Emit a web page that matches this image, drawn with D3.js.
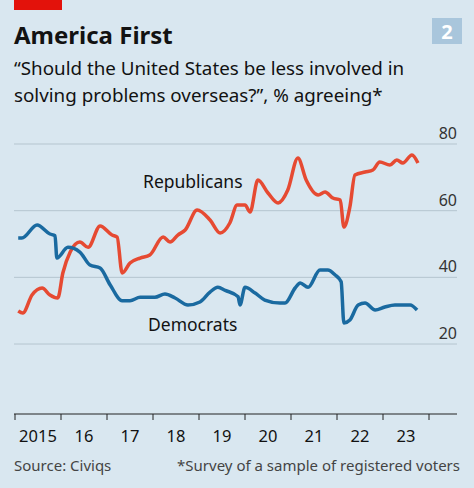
<!DOCTYPE html>
<html><head><meta charset="utf-8">
<script src="https://cdn.jsdelivr.net/npm/d3@7"></script>
<style>body{margin:0;background:#d9e7f0;font-family:"Noto Sans",sans-serif;}</style>
</head><body><div id="chart"></div>
<script>
// Data (decimal years, % agreeing)
const repYears = [2015.07,2015.17,2015.37,2015.59,2015.76,2015.93,2016.04,2016.20,2016.41,2016.59,2016.85,2017.11,2017.22,2017.33,2017.50,2017.72,2017.93,2018.22,2018.37,2018.54,2018.70,2018.96,2019.24,2019.46,2019.67,2019.83,2020.00,2020.11,2020.28,2020.50,2020.72,2020.93,2021.15,2021.33,2021.59,2021.74,2021.91,2022.07,2022.15,2022.28,2022.39,2022.61,2022.78,2022.93,2023.15,2023.30,2023.43,2023.63,2023.76];
const repValues = [29.9,29.3,34.7,36.8,34.7,33.8,41.3,47.6,50.6,49.0,55.4,52.7,52.1,41.3,44.3,45.8,46.7,52.1,50.6,52.7,54.2,60.2,57.2,53.3,56.3,61.7,61.7,59.6,69.2,65.3,62.3,66.2,75.8,69.2,64.7,65.6,63.8,63.2,55.1,61.1,70.7,71.6,72.2,74.6,73.7,75.2,74.3,76.7,74.3];
const demYears = [2015.07,2015.15,2015.48,2015.76,2015.87,2015.91,2016.15,2016.41,2016.63,2016.85,2017.07,2017.33,2017.50,2017.72,2018.04,2018.26,2018.48,2018.76,2019.02,2019.24,2019.41,2019.57,2019.85,2019.89,2020.00,2020.22,2020.43,2020.76,2020.87,2021.09,2021.20,2021.37,2021.63,2021.80,2021.96,2022.09,2022.15,2022.28,2022.46,2022.61,2022.83,2023.04,2023.26,2023.59,2023.74];
const demValues = [51.8,51.8,55.7,53.0,52.5,45.8,49.0,47.6,43.7,42.8,37.7,33.0,33.0,34.0,34.0,35.0,33.8,31.7,32.6,35.6,37.0,36.1,34.2,31.7,37.0,35.3,33.2,32.3,32.3,36.8,38.3,37.0,42.2,42.2,40.7,38.7,26.3,27.2,31.7,32.3,30.2,31.1,31.7,31.7,30.2];
const yTicks = [20,40,60,80];
const xTickYears = [2015,2016,2017,2018,2019,2020,2021,2022,2023];
const xTickLabels = ["2015","16","17","18","19","20","21","22","23"];

const W = 474, H = 488;
const svg = d3.select("#chart").append("svg").attr("width", W).attr("height", H);
svg.append("rect").attr("width", W).attr("height", H).attr("fill", "#d9e7f0");
svg.append("rect").attr("x", 14).attr("y", 0).attr("width", 48).attr("height", 10).attr("fill", "#e3120b");

svg.append("text").attr("x", 14).attr("y", 44).attr("font-size", 24).attr("font-weight", 700)
  .attr("fill", "#121212").text("America First");
svg.append("text").attr("x", 14).attr("y", 75).attr("font-size", 18.8).attr("fill", "#121212")
  .text("“Should the United States be less involved in");
svg.append("text").attr("x", 14).attr("y", 102).attr("font-size", 18.8).attr("fill", "#121212")
  .text("solving problems overseas?”, % agreeing*");

svg.append("rect").attr("x", 432).attr("y", 18).attr("width", 30).attr("height", 26).attr("fill", "#a9c6dc");
svg.append("text").attr("x", 447).attr("y", 39).attr("text-anchor", "middle").attr("font-size", 20)
  .attr("font-weight", 700).attr("fill", "#fff").text("2");

const x = d3.scaleLinear().domain([2015, 2024]).range([15, 429]);
const y = d3.scaleLinear().domain([0, 80]).range([410.7, 144]);
const left = 14, right = 457;

const grid = svg.append("g");
yTicks.forEach(t => {
  grid.append("line").attr("x1", left).attr("x2", right).attr("y1", y(t)).attr("y2", y(t))
    .attr("stroke", "#b5c5cf").attr("stroke-width", 1);
  grid.append("text").attr("x", right).attr("y", y(t) - 5).attr("text-anchor", "end")
    .attr("font-size", 16).attr("fill", "#333").text(t);
});

const line = d3.line().x(d => x(d[0])).y(d => y(d[1])).curve(d3.curveMonotoneX);
svg.append("path").datum(d3.zip(repYears, repValues)).attr("d", line)
  .attr("fill", "none").attr("stroke", "#e64a32").attr("stroke-width", 3.5).attr("stroke-linejoin", "round");
svg.append("path").datum(d3.zip(demYears, demValues)).attr("d", line)
  .attr("fill", "none").attr("stroke", "#1a6aa0").attr("stroke-width", 3.5).attr("stroke-linejoin", "round");

svg.append("text").attr("x", 143).attr("y", 188).attr("font-size", 17.5).attr("fill", "#121212").text("Republicans");
svg.append("text").attr("x", 148).attr("y", 331).attr("font-size", 17.5).attr("fill", "#121212").text("Democrats");

// x axis
const axisY = 414;
svg.append("line").attr("x1", left).attr("x2", right).attr("y1", axisY).attr("y2", axisY)
  .attr("stroke", "#222").attr("stroke-width", 1);
xTickYears.forEach((yr, i) => {
  svg.append("line").attr("x1", x(yr)).attr("x2", x(yr)).attr("y1", axisY).attr("y2", axisY + 6)
    .attr("stroke", "#222");
  svg.append("text").attr("x", x(yr + 0.5)).attr("y", 442).attr("text-anchor", "middle")
    .attr("font-size", 16.5).attr("fill", "#121212").text(xTickLabels[i]);
});
svg.append("line").attr("x1", x(2024)).attr("x2", x(2024)).attr("y1", axisY).attr("y2", axisY + 6).attr("stroke", "#222");

svg.append("text").attr("x", 14).attr("y", 471).attr("font-size", 15).attr("fill", "#444").text("Source: Civiqs");
svg.append("text").attr("x", 460).attr("y", 471).attr("text-anchor", "end").attr("font-size", 15)
  .attr("fill", "#444").text("*Survey of a sample of registered voters");
</script></body></html>
